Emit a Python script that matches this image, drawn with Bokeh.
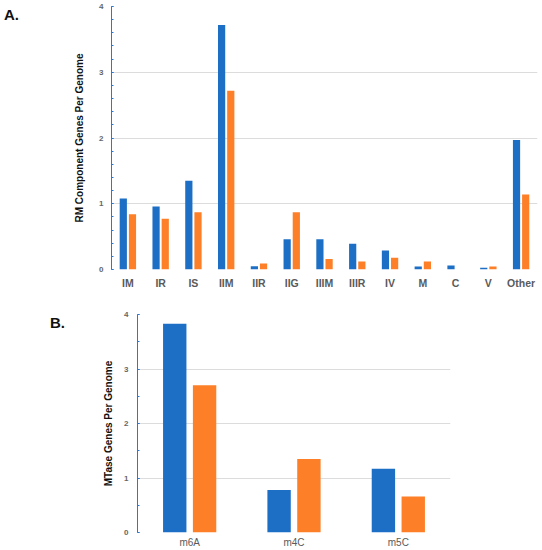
from bokeh.plotting import figure
from bokeh.models import FactorRange, SingleIntervalTicker, ColumnDataSource, Div
from bokeh.transform import dodge
from bokeh.embed import file_html
from bokeh.resources import INLINE

# Panel A data
cats_a = ["IM", "IR", "IS", "IIM", "IIR", "IIG", "IIIM", "IIIR", "IV", "M", "C", "V", "Other"]
blue_a = [1.08, 0.96, 1.35, 3.72, 0.05, 0.46, 0.46, 0.39, 0.29, 0.045, 0.06, 0.025, 1.97]
orange_a = [0.84, 0.77, 0.87, 2.72, 0.09, 0.87, 0.16, 0.12, 0.18, 0.12, 0.0, 0.045, 1.14]

# Panel B data
cats_b = ["m6A", "m4C", "m5C"]
blue_b = [3.83, 0.78, 1.17]
orange_b = [2.70, 1.35, 0.66]

BLUE = "#1c6fc5"
ORANGE = "#fd7f27"
AXIS_BLUE = "#2a78d0"
FONT = "Liberation Sans"


def style(p, minor, tick_font, x_font, x_style, x_standoff, y_standoff, ylab_standoff):
    p.background_fill_color = "white"
    p.border_fill_color = "white"
    p.outline_line_color = None
    p.xgrid.grid_line_color = None
    p.ygrid.grid_line_color = "#dcdcdc"
    p.ygrid.grid_line_width = 1
    p.yaxis.ticker = SingleIntervalTicker(interval=1, num_minor_ticks=minor)
    p.yaxis.axis_line_color = AXIS_BLUE
    p.yaxis.major_tick_line_color = AXIS_BLUE
    p.yaxis.minor_tick_line_color = AXIS_BLUE
    p.yaxis.major_tick_in = 2
    p.yaxis.major_tick_out = 0
    p.yaxis.minor_tick_in = 2
    p.yaxis.minor_tick_out = 0
    p.yaxis.major_label_text_font = FONT
    p.yaxis.major_label_text_font_size = tick_font
    p.yaxis.major_label_text_font_style = "bold"
    p.yaxis.major_label_text_color = "#666666"
    p.yaxis.major_label_standoff = y_standoff
    p.yaxis.axis_label_text_font = FONT
    p.yaxis.axis_label_text_font_size = "10px"
    p.yaxis.axis_label_text_font_style = "bold"
    p.yaxis.axis_label_text_color = "#111111"
    p.yaxis.axis_label_standoff = ylab_standoff
    p.xaxis.axis_line_color = None
    p.xaxis.major_tick_line_color = None
    p.xaxis.minor_tick_line_color = None
    p.xaxis.major_label_text_font = FONT
    p.xaxis.major_label_text_font_size = x_font
    p.xaxis.major_label_text_font_style = x_style
    p.xaxis.major_label_text_color = "#5a5a5a"
    p.xaxis.major_label_standoff = x_standoff


# ---------- Panel A ----------
src_a = ColumnDataSource(dict(cat=cats_a, blue=blue_a, orange=orange_a))
pa = figure(width=542, height=291, x_range=FactorRange(*cats_a, range_padding=0),
            y_range=(0, 4), output_backend="svg", toolbar_location=None,
            min_border_left=111, min_border_right=5, min_border_top=6, min_border_bottom=18)
pa.vbar(x=dodge("cat", -0.14, range=pa.x_range), top="blue", width=0.22, bottom=0,
        source=src_a, fill_color=BLUE, line_color=None)
pa.vbar(x=dodge("cat", 0.14, range=pa.x_range), top="orange", width=0.22, bottom=0,
        source=src_a, fill_color=ORANGE, line_color=None)
pa.yaxis.axis_label = "RM Component Genes Per Genome"
style(pa, 5, "8px", "10.5px", "bold", 1, 8, 11)

# ---------- Panel B ----------
src_b = ColumnDataSource(dict(cat=cats_b, blue=blue_b, orange=orange_b))
pb = figure(width=542, height=259, x_range=FactorRange(*cats_b, range_padding=0),
            y_range=(0, 4), output_backend="svg", toolbar_location=None,
            min_border_left=137, min_border_right=92, min_border_top=23, min_border_bottom=16)
pb.vbar(x=dodge("cat", -0.143, range=pb.x_range), top="blue", width=0.224, bottom=0,
        source=src_b, fill_color=BLUE, line_color=None)
pb.vbar(x=dodge("cat", 0.143, range=pb.x_range), top="orange", width=0.224, bottom=0,
        source=src_b, fill_color=ORANGE, line_color=None)
pb.yaxis.axis_label = "MTase Genes Per Genome"
style(pb, 2, "8px", "10px", "normal", -2, 9, 7)

# Panel letters
label_css = {"position": "absolute", "font-family": FONT, "font-size": "15px",
             "font-weight": "bold", "color": "#111111", "z-index": "10", "margin": "0"}
div_a = Div(text="A.", styles=dict(label_css, left="4px", top="4px"))
div_b = Div(text="B.", styles=dict(label_css, left="50px", top="312px"))

open("out.html", "w").write(file_html([pa, pb, div_a, div_b], INLINE))
